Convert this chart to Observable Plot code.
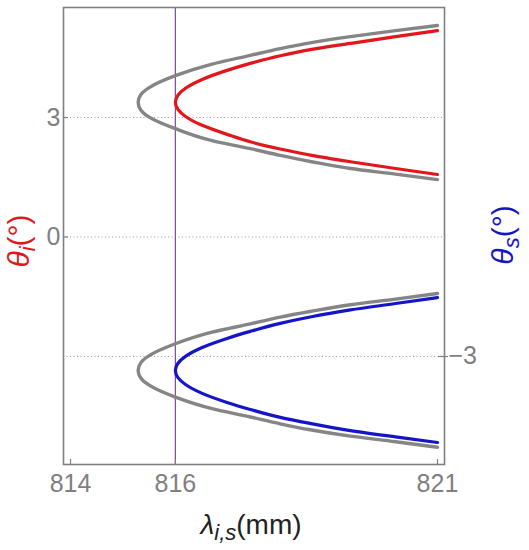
<!DOCTYPE html>
<html><head><meta charset="utf-8">
<script src="https://cdn.jsdelivr.net/npm/d3@7"></script>
<script src="https://cdn.jsdelivr.net/npm/@observablehq/plot@0.6"></script>
<style>body{margin:0;background:#fff}</style>
</head><body><div id="chart"></div>
<script>
// Wavelength and angle samples
const grayUpperLambda = [821, 820.2, 819.34, 818.6, 818, 817.43, 816.7, 816, 815.5, 815.34, 815.29, 815.34, 815.5, 816, 816.7, 817.43, 818, 818.6, 819.34, 820.2, 821];
const grayUpperTheta  = [5.31, 5.18, 5.03, 4.88, 4.73, 4.56, 4.34, 4.05, 3.75, 3.57, 3.38, 3.19, 3.01, 2.72, 2.42, 2.22, 2.05, 1.89, 1.72, 1.58, 1.44];

const redLambda = [821, 820.2, 819.34, 818.6, 818, 817.43, 817, 816.5, 816.2, 816.05, 816, 816.05, 816.2, 816.5, 817, 817.43, 818, 818.6, 819.34, 820.2, 821];
const redTheta  = [5.18, 5.03, 4.86, 4.71, 4.55, 4.36, 4.19, 3.95, 3.74, 3.56, 3.38, 3.20, 3.02, 2.81, 2.57, 2.39, 2.21, 2.05, 1.89, 1.72, 1.57];

const grayLowerLambda = [821, 820.2, 819.34, 818.57, 818, 817.43, 816.7, 816, 815.5, 815.34, 815.29, 815.34, 815.5, 816, 816.7, 817.43, 818, 818.57, 819.34, 820.2, 821];
const grayLowerTheta  = [-1.42, -1.56, -1.70, -1.87, -2.01, -2.18, -2.39, -2.68, -2.98, -3.16, -3.35, -3.54, -3.72, -4.02, -4.31, -4.52, -4.69, -4.84, -5.00, -5.14, -5.28];

const blueLambda = [821, 820.2, 819.34, 818.57, 818, 817.43, 817, 816.5, 816.2, 816.05, 816, 816.05, 816.2, 816.5, 817, 817.43, 818, 818.57, 819.34, 820.2, 821];
const blueTheta  = [-1.52, -1.67, -1.83, -2.01, -2.17, -2.37, -2.54, -2.78, -2.99, -3.17, -3.35, -3.53, -3.71, -3.92, -4.16, -4.33, -4.53, -4.68, -4.86, -5.02, -5.16];

const xTicks = [814, 816, 821];
const leftTicks = [3, 0];
const rightTicks = [-3];
const gridTicks = [3, 0, -3];
const markerLambda = [816];

const toRows = (ls, ts) => ls.map((l, i) => ({l, t: ts[i]}));

const W = 529, H = 550, mT = 7, mR = 85, mB = 86, mL = 63;
const fw = W - mL - mR, fh = H - mT - mB;
const axisGray = "#808080";
const font = "'Liberation Sans', Arial, sans-serif";

const plot = Plot.plot({
  width: W, height: H,
  marginTop: mT, marginRight: mR, marginBottom: mB, marginLeft: mL,
  style: {color: axisGray, fontSize: "25px", fontFamily: font, background: "#fff"},
  x: {domain: [813.866, 821.134]},
  y: {domain: [-5.712, 5.762]},
  marks: [
    Plot.ruleY(gridTicks, {stroke: "#9a9a9a", strokeDasharray: "1,2.5", strokeWidth: 1}),
    Plot.ruleX(markerLambda, {stroke: "#7a4e96", strokeWidth: 1.2}),
    Plot.line(toRows(grayUpperLambda, grayUpperTheta), {x: "l", y: "t", stroke: "#858585", strokeWidth: 3.4, curve: "monotone-y"}),
    Plot.line(toRows(grayLowerLambda, grayLowerTheta), {x: "l", y: "t", stroke: "#858585", strokeWidth: 3.4, curve: "monotone-y"}),
    Plot.line(toRows(redLambda, redTheta), {x: "l", y: "t", stroke: "#e3161b", strokeWidth: 3.2, curve: "monotone-y"}),
    Plot.line(toRows(blueLambda, blueTheta), {x: "l", y: "t", stroke: "#1414c8", strokeWidth: 3.2, curve: "monotone-y"}),
    Plot.frame({stroke: axisGray, strokeWidth: 1.6}),
    Plot.ruleX(xTicks, {stroke: axisGray, strokeWidth: 1.2, insetTop: fh - 5}),
    Plot.ruleY(leftTicks, {stroke: axisGray, strokeWidth: 1.2, insetRight: fw - 5}),
    Plot.ruleY(rightTicks, {stroke: axisGray, strokeWidth: 1.2, insetLeft: fw - 6, insetRight: -4}),
    Plot.axisX({ticks: xTicks, tickSize: 0, tickPadding: 10, label: null, tickFormat: d => String(d), fontSize: 25, fill: axisGray, fontFamily: font}),
    Plot.axisY({anchor: "left", ticks: leftTicks, tickSize: 0, tickPadding: 3, label: null, fontSize: 25, fill: axisGray, fontFamily: font}),
    Plot.axisY({anchor: "right", ticks: rightTicks, tickSize: 0, tickPadding: 4, label: null, fontSize: 25, fill: axisGray, fontFamily: font})
  ]
});
document.getElementById("chart").appendChild(plot);

const svg = d3.select(plot);

function label(g, color, main, sub, rest, size, subSize, shift) {
  const t = g.append("text").attr("text-anchor", "middle").attr("fill", color)
    .attr("font-family", font).style("font-size", size + "px");
  t.append("tspan").attr("font-style", "italic").text(main);
  t.append("tspan").attr("font-style", "italic").style("font-size", subSize + "px").attr("dy", shift).text(sub);
  t.append("tspan").attr("dy", -shift).text(rest);
}

label(svg.append("g").attr("transform", "translate(251,534)"), "#222", "λ", "i,s", "(mm)", 28, 22, 6);
label(svg.append("g").attr("transform", "translate(29,241) rotate(-90)"), "#e3161b", "θ", "i", "(°)", 30, 22, 6);
label(svg.append("g").attr("transform", "translate(513,235) rotate(-90)"), "#1414c8", "θ", "s", "(°)", 30, 22, 6);
</script>
</body></html>
